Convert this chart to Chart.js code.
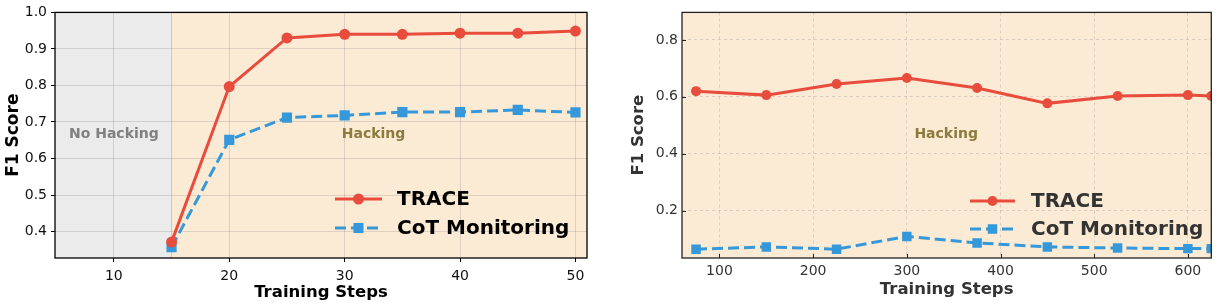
<!DOCTYPE html>
<html><head><meta charset="utf-8">
<script src="https://cdn.jsdelivr.net/npm/chart.js@4.4.1/dist/chart.umd.min.js"></script>
<style>
html,body{margin:0;padding:0;background:#fff;width:1218px;height:305px;overflow:hidden;}
canvas{display:block;}
</style></head><body>
<div style="position:absolute;left:0;top:0;width:600px;height:305px"><canvas id="c1" width="600" height="305"></canvas></div>
<div style="position:absolute;left:610px;top:0;width:608px;height:305px"><canvas id="c2" width="608" height="305"></canvas></div>
<script>
// ---- data ----
const seriesNames = ['TRACE', 'CoT Monitoring'];
const leftSteps = [15, 20, 25, 30, 35, 40, 45, 50];
const leftTrace = [0.371, 0.797, 0.930, 0.940, 0.940, 0.943, 0.943, 0.949];
const leftCot   = [0.357, 0.651, 0.712, 0.718, 0.727, 0.727, 0.733, 0.726];
const leftXTicks = [10, 20, 30, 40, 50];
const leftYTicks = [0.4, 0.5, 0.6, 0.7, 0.8, 0.9, 1.0];
const rightSteps = [75, 150, 225, 300, 375, 450, 525, 600, 625];
const rightTrace = [0.620, 0.606, 0.645, 0.666, 0.631, 0.577, 0.603, 0.606, 0.603];
const rightCot   = [0.064, 0.072, 0.064, 0.109, 0.086, 0.072, 0.068, 0.066, 0.066];
const rightXTicks = [100, 200, 300, 400, 500, 600];
const rightYTicks = [0.2, 0.4, 0.6, 0.8];

const RED = '#e74c3c', BLUE = '#3498db';
const FONT = 'DejaVu Sans';
const ORANGE_BG = '#fcebd4', GREY_BG = '#ebebeb';

function pts(xs, ys) { return xs.map((x, i) => ({x: x, y: ys[i]})); }

function datasets(xs, tr, cot, lw, cr, sq) {
  return [
    {label: seriesNames[0], data: pts(xs, tr), borderColor: RED, backgroundColor: RED,
     borderWidth: lw, pointRadius: cr, pointHoverRadius: cr, pointStyle: 'circle', pointBorderWidth: 0, tension: 0},
    {label: seriesNames[1], data: pts(xs, cot), borderColor: BLUE, backgroundColor: BLUE,
     borderWidth: lw, borderDash: [11, 5], pointRadius: sq, pointHoverRadius: sq, pointStyle: 'rect', pointBorderWidth: 0, tension: 0}
  ];
}

function legendPlugin(id, x0, x1, tx, y0, dy, color, size, cr, sq, lw) {
  return {id: id, afterDraw(chart) {
    const ctx = chart.ctx;
    ctx.save();
    chart.data.datasets.forEach((ds, i) => {
      const y = y0 + i * dy;
      ctx.strokeStyle = ds.borderColor; ctx.lineWidth = lw;
      ctx.setLineDash(ds.borderDash || []);
      ctx.beginPath(); ctx.moveTo(x0, y); ctx.lineTo(x1, y); ctx.stroke();
      ctx.setLineDash([]);
      ctx.fillStyle = ds.borderColor;
      const cx = (x0 + x1) / 2;
      if (ds.pointStyle === 'rect') { const s = sq; ctx.fillRect(cx - s / 2, y - s / 2, s, s); }
      else { ctx.beginPath(); ctx.arc(cx, y, cr, 0, Math.PI * 2); ctx.fill(); }
      ctx.fillStyle = color; ctx.font = 'bold ' + size + 'px "' + FONT + '"';
      ctx.textAlign = 'left'; ctx.textBaseline = 'middle';
      ctx.fillText(ds.label, tx, y + 1);
    });
    ctx.restore();
  }};
}

function framePlugin(id, color, inner) {
  return {id: id, afterDraw(chart) {
    const {ctx, chartArea: a} = chart;
    ctx.save();
    ctx.strokeStyle = color; ctx.lineWidth = 1.3;
    ctx.strokeRect(a.left, a.top, a.right - a.left, a.bottom - a.top);
    if (inner) {
      ctx.lineWidth = 1;
      chart.scales.x.ticks.forEach(t => { const px = Math.round(chart.scales.x.getPixelForValue(t.value)) + 0.5;
        ctx.beginPath(); ctx.moveTo(px, a.bottom); ctx.lineTo(px, a.bottom - 4); ctx.stroke(); });
      chart.scales.y.ticks.forEach(t => { const py = Math.round(chart.scales.y.getPixelForValue(t.value)) + 0.5;
        ctx.beginPath(); ctx.moveTo(a.left, py); ctx.lineTo(a.left + 4, py); ctx.stroke(); });
    }
    ctx.restore();
  }};
}

function textPlugin(id, items) {
  return {id: id, afterDatasetsDraw(chart) {
    const {ctx, scales: {x, y}} = chart;
    ctx.save();
    ctx.font = 'bold 14px "' + FONT + '"'; ctx.textAlign = 'center'; ctx.textBaseline = 'middle';
    items.forEach(it => { ctx.fillStyle = it.color; ctx.fillText(it.text, x.getPixelForValue(it.x), y.getPixelForValue(it.y)); });
    ctx.restore();
  }};
}

// ---- left chart ----
new Chart(document.getElementById('c1'), {
  type: 'line',
  data: {datasets: datasets(leftSteps, leftTrace, leftCot, 3, 5.5, 7.2)},
  options: {
    responsive: false, animation: false, devicePixelRatio: 1,
    layout: {padding: {top: 7, right: 13, left: 0, bottom: 0}},
    plugins: {legend: {display: false}, tooltip: {enabled: false}},
    scales: {
      x: {type: 'linear', min: 4.9, max: 51,
        afterBuildTicks: s => { s.ticks = leftXTicks.map(v => ({value: v})); },
        afterFit: s => { s.height = 47; },
        grid: {color: 'rgba(140,140,140,0.28)', lineWidth: 1, tickColor: '#000', tickLength: 4},
        border: {display: false},
        ticks: {color: '#111', font: {family: FONT, size: 14}, padding: 6, maxRotation: 0, callback: v => String(v)},
        title: {display: true, text: 'Training Steps', color: '#000', font: {family: FONT, size: 16.5, weight: 'bold'}, padding: {top: 0, bottom: 2}}
      },
      y: {type: 'linear', min: 0.3275, max: 1.0,
        afterBuildTicks: s => { s.ticks = leftYTicks.map(v => ({value: v})); },
        afterFit: s => { s.width = 55; },
        grid: {color: 'rgba(140,140,140,0.28)', lineWidth: 1, tickColor: '#000', tickLength: 4},
        border: {display: false},
        ticks: {color: '#111', font: {family: FONT, size: 14}, padding: 4, callback: v => v.toFixed(1)},
        title: {display: true, text: 'F1 Score', color: '#000', font: {family: FONT, size: 17, weight: 'bold'}, padding: {top: 3, bottom: 0}}
      }
    }
  },
  plugins: [
    {id: 'bg1', beforeDraw(chart) {
      const {ctx, chartArea: a, scales: {x}} = chart;
      const xb = x.getPixelForValue(15);
      ctx.save();
      ctx.fillStyle = GREY_BG; ctx.fillRect(a.left, a.top, xb - a.left, a.bottom - a.top);
      ctx.fillStyle = ORANGE_BG; ctx.fillRect(xb, a.top, a.right - xb, a.bottom - a.top);
      ctx.strokeStyle = 'rgba(215,185,140,0.8)'; ctx.lineWidth = 1;
      ctx.beginPath(); ctx.moveTo(xb, a.top); ctx.lineTo(xb, a.bottom); ctx.stroke();
      ctx.restore();
    }},
    textPlugin('txt1', [
      {text: 'No Hacking', x: 10, y: 0.665, color: '#808080'},
      {text: 'Hacking', x: 32.5, y: 0.665, color: '#8c7a3e'}
    ]),
    framePlugin('fr1', '#000', false),
    legendPlugin('lg1', 335, 382, 397, 199, 29, '#000', 20, 5.5, 10, 3)
  ]
});

// ---- right chart ----
new Chart(document.getElementById('c2'), {
  type: 'line',
  data: {datasets: datasets(rightSteps, rightTrace, rightCot, 3, 5, 6.7)},
  options: {
    responsive: false, animation: false, devicePixelRatio: 1,
    layout: {padding: {top: 8, right: 4, left: 0, bottom: 0}},
    plugins: {legend: {display: false}, tooltip: {enabled: false}},
    scales: {
      x: {type: 'linear', min: 60, max: 625,
        afterBuildTicks: s => { s.ticks = rightXTicks.map(v => ({value: v})); },
        afterFit: s => { s.height = 47; },
        grid: {color: 'rgba(150,150,150,0.35)', lineWidth: 1, drawTicks: false},
        border: {display: false, dash: [3, 3]},
        ticks: {color: '#333', font: {family: FONT, size: 14}, padding: 5, maxRotation: 0, callback: v => String(v)},
        title: {display: true, text: 'Training Steps', color: '#333', font: {family: FONT, size: 16.5, weight: 'bold'}, padding: {top: 0, bottom: 5}}
      },
      y: {type: 'linear', min: 0.033, max: 0.897,
        afterBuildTicks: s => { s.ticks = rightYTicks.map(v => ({value: v})); },
        afterFit: s => { s.width = 72; },
        grid: {color: 'rgba(150,150,150,0.35)', lineWidth: 1, drawTicks: false},
        border: {display: false, dash: [3, 3]},
        ticks: {color: '#333', font: {family: FONT, size: 14}, padding: 4, callback: v => v.toFixed(1)},
        title: {display: true, text: 'F1 Score', color: '#333', font: {family: FONT, size: 16.5, weight: 'bold'}, padding: {top: 19, bottom: 0}}
      }
    }
  },
  plugins: [
    {id: 'bg2', beforeDraw(chart) {
      const {ctx, chartArea: a} = chart;
      ctx.save(); ctx.fillStyle = ORANGE_BG; ctx.fillRect(a.left, a.top, a.right - a.left, a.bottom - a.top); ctx.restore();
    }},
    textPlugin('txt2', [{text: 'Hacking', x: 342, y: 0.469, color: '#8c7a3e'}]),
    framePlugin('fr2', '#222', true),
    legendPlugin('lg2', 360, 405, 421, 201, 28, '#333', 20, 5, 9.5, 3)
  ]
});
</script>
</body></html>
